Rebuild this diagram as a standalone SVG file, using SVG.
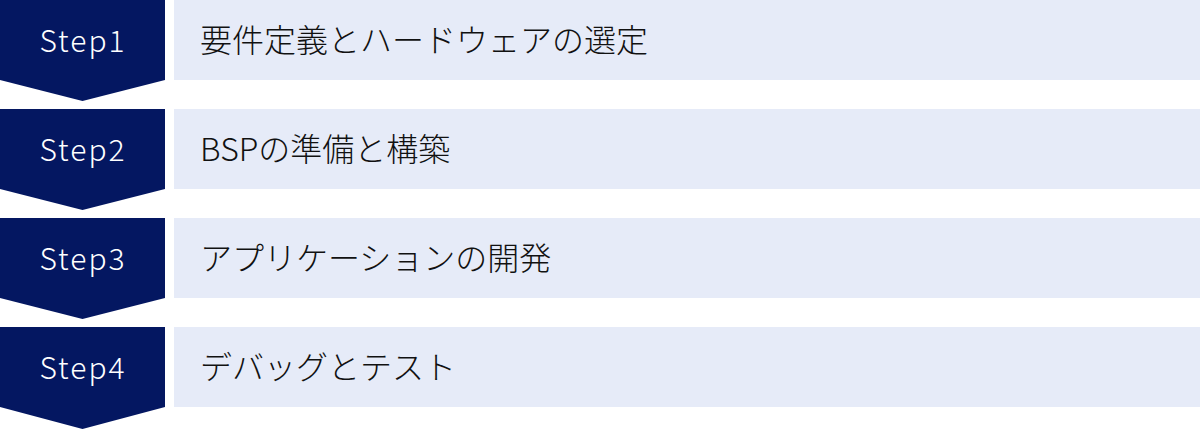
<svg xmlns="http://www.w3.org/2000/svg" width="1200" height="429" viewBox="0 0 1200 429">
  <defs>
    <style>
      .chev { fill: #041761; }
      .bar { fill: #e6ebf8; }
      .step { font-family: "Noto Sans CJK JP", "Noto Sans", sans-serif; font-size: 30px; font-weight: 300; fill: #ffffff; text-anchor: middle; letter-spacing: 2px; }
      .label { font-family: "Noto Sans CJK JP", "Noto Sans", sans-serif; font-size: 32px; font-weight: 300; fill: #111111; }
    </style>
  </defs>
  <rect width="1200" height="429" fill="#ffffff"/>
  <g id="step1">
    <polygon class="chev" points="0,0 165,0 165,80 82.5,101 0,80"/>
    <rect class="bar" x="174" y="0" width="1026" height="80"/>
    <text class="step" x="83" y="52">Step1</text>
    <text class="label" x="200" y="52">要件定義とハードウェアの選定</text>
  </g>
  <g id="step2">
    <polygon class="chev" points="0,109 165,109 165,189 82.5,210 0,189"/>
    <rect class="bar" x="174" y="109" width="1026" height="80"/>
    <text class="step" x="83" y="161">Step2</text>
    <text class="label" x="200" y="161">BSPの準備と構築</text>
  </g>
  <g id="step3">
    <polygon class="chev" points="0,218 165,218 165,298 82.5,319 0,298"/>
    <rect class="bar" x="174" y="218" width="1026" height="80"/>
    <text class="step" x="83" y="270">Step3</text>
    <text class="label" x="200" y="270">アプリケーションの開発</text>
  </g>
  <g id="step4">
    <polygon class="chev" points="0,327 165,327 165,407 82.5,429 0,407"/>
    <rect class="bar" x="174" y="327" width="1026" height="80"/>
    <text class="step" x="83" y="379">Step4</text>
    <text class="label" x="200" y="379">デバッグとテスト</text>
  </g>
  <g id="connectors"/>
</svg>
